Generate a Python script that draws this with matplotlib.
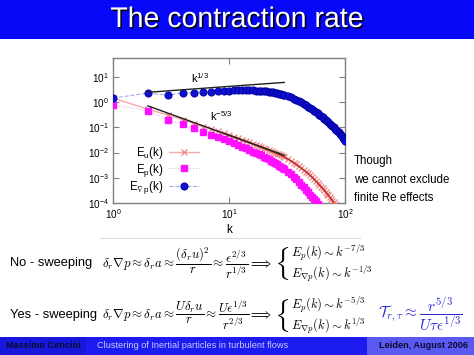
import numpy as np
import matplotlib
matplotlib.use("Agg")
import matplotlib.pyplot as plt
import matplotlib.patheffects as pe
from matplotlib.patches import Rectangle
from matplotlib.lines import Line2D

plt.rcParams['font.family'] = ['Liberation Sans', 'DejaVu Sans']
plt.rcParams['mathtext.fontset'] = 'cm'

# ---------------- data (log10 of spectra) ----------------
k_grid = list(range(1, 31)) + list(range(32, 101, 2))

log_E_gradp = [0.16, 0.36, 0.27, 0.37, 0.38, 0.40, 0.42, 0.44, 0.45, 0.46,
               0.47, 0.47, 0.47, 0.47, 0.47, 0.47, 0.46, 0.46, 0.45, 0.44,
               0.43, 0.42, 0.41, 0.40, 0.38, 0.36, 0.34, 0.32, 0.30, 0.28,
               0.24, 0.19, 0.14, 0.09, 0.04, -0.01, -0.06, -0.12, -0.18, -0.23,
               -0.29, -0.34, -0.40, -0.45, -0.50, -0.55, -0.60, -0.65, -0.70, -0.75,
               -0.80, -0.85, -0.90, -0.95, -1.00, -1.05, -1.10, -1.15, -1.20, -1.25,
               -1.30, -1.36, -1.42, -1.47, -1.53]

log_E_p = [-0.11, -0.34, -0.71, -0.87, -1.04, -1.20, -1.30, -1.38, -1.45, -1.55,
           -1.63, -1.70, -1.77, -1.83, -1.90, -1.96, -2.01, -2.06, -2.11, -2.16,
           -2.22, -2.27, -2.32, -2.37, -2.42, -2.47, -2.52, -2.57, -2.62, -2.67,
           -2.76, -2.85, -2.95, -3.05, -3.16, -3.27, -3.38, -3.48, -3.58, -3.67,
           -3.76, -3.85, -3.94, -4.03]

log_E_u = [0.16, -0.28, -0.52, -0.70, -0.85, -0.97, -1.07, -1.16, -1.24, -1.31,
           -1.37, -1.43, -1.50, -1.55, -1.60, -1.65, -1.70, -1.75, -1.79, -1.83,
           -1.87, -1.90, -1.94, -1.97, -2.00, -2.04, -2.07, -2.11, -2.14, -2.18,
           -2.25, -2.32, -2.40, -2.47, -2.55, -2.62, -2.69, -2.76, -2.83, -2.90,
           -2.98, -3.05, -3.13, -3.20, -3.28, -3.35, -3.42, -3.49, -3.56, -3.63,
           -3.70, -3.77, -3.84, -3.91, -3.98, -4.05]

# reference power laws
k_fit = [2, 30]
amp_13 = 1.95
amp_53 = 0.71
exp_13 = 1.0 / 3.0
exp_53 = -5.0 / 3.0

legend_labels = [r"$\mathregular{E_u(k)}$", r"$\mathregular{E_p(k)}$",
                 r"$\mathregular{E_{\nabla\,p}(k)}$"]

# ---------------- figure ----------------
W, H = 474, 355
fig = plt.figure(figsize=(W / 100, H / 100), dpi=100)
fig.patch.set_facecolor('white')

def fx(px):
    return px / W

def fy(py):
    return 1 - py / H

# title bar
fig.add_artist(Rectangle((0, fy(39)), 1, 39 / H, transform=fig.transFigure,
                         facecolor='#0808f8', edgecolor='none', zorder=0))
fig.text(0.5, fy(20), "The contraction rate", color='white', fontsize=20.5,
         ha='center', va='center',
         path_effects=[pe.withSimplePatchShadow(offset=(1.2, -1.2),
                                                shadow_rgbFace='black', alpha=0.9)])

# footer
fig.add_artist(Rectangle((0, 0), fx(367), 18 / H, transform=fig.transFigure,
                         facecolor='#1c1cf0', edgecolor='none', zorder=0))
fig.add_artist(Rectangle((0, 0), fx(86), 18 / H, transform=fig.transFigure,
                         facecolor='#1818dc', edgecolor='none', zorder=0))
fig.add_artist(Rectangle((fx(367), 0), 1 - fx(367), 18 / H, transform=fig.transFigure,
                         facecolor='#5a5af2', edgecolor='none', zorder=0))
fig.text(fx(6), fy(346), "Massimo Cencini", color='#0a0a30', fontsize=6.6,
         fontweight='bold', ha='left', va='center')
fig.text(fx(97), fy(346), "Clustering of Inertial particles in turbulent flows",
         color='#c8c8ff', fontsize=6.6, ha='left', va='center')
fig.text(fx(468), fy(346), "Leiden, August 2006", color='#0a0a30', fontsize=6.6,
         fontweight='bold', ha='right', va='center')

# thin line below embedded plot
fig.add_artist(Line2D([fx(100), fx(360)], [fy(238), fy(238)], transform=fig.transFigure,
                      color='#dddddd', lw=0.8))

# ---------------- axes ----------------
ax = fig.add_axes([fx(113), fy(203), fx(345) - fx(113), (203 - 58) / H])
ax.set_xscale('log')
ax.set_yscale('log')

k = np.array(k_grid, dtype=float)
E_gp = 10 ** np.array(log_E_gradp)
E_p = 10 ** np.array(log_E_p)
E_u = 10 ** np.array(log_E_u)
k_p = k[:len(E_p)]
k_u = k[:len(E_u)]

# E_u: salmon crosses with a line
l_u, = ax.plot(k_u, E_u, color='#f4a8a8', lw=1.0, marker='x', ms=3.8,
               mec='#ee7878', mew=0.8, zorder=3)
ax.plot(k_u[8:], E_u[8:], color='#b02020', lw=0.8, zorder=4)
# E_p: magenta squares
l_p, = ax.plot(k_p, E_p, color='#f3a6f3', lw=0.8, ls=':', marker='s', ms=4.4,
               mfc='#ff10ff', mec='#ff10ff', zorder=3)
# E_grad p: blue circles
l_g, = ax.plot(k, E_gp, color='#9fa8ee', lw=0.8, ls='--', marker='o', ms=5.2,
               mfc='#1010d0', mec='#0000a0', mew=0.6, zorder=3)

# power laws
kf = np.array(k_fit, dtype=float)
ax.plot(kf, amp_13 * kf ** exp_13, color='#202020', lw=1.0, zorder=5)
ax.plot(kf, amp_53 * (kf / 2) ** exp_53, color='#202020', lw=1.0, zorder=5)
ax.text(5.6, 9.0, r"$\mathregular{k^{1/3}}$", fontsize=8, ha='center', va='center')
ax.text(8.6, 0.27, r"$\mathregular{k^{-5/3}}$", fontsize=8, ha='center', va='center')

ax.set_xlim(1, 100)
ax.set_ylim(1e-4, 10 ** 1.75)
ax.set_xticks([1, 10, 100])
ax.set_yticks([1e-4, 1e-3, 1e-2, 1e-1, 1, 10])
ax.minorticks_off()
ax.tick_params(which='both', direction='in', top=True, right=True, length=4,
               color='#808080', labelsize=7.2, pad=3)
for s in ax.spines.values():
    s.set_color('#808080')
    s.set_linewidth(1.0)
ax.set_xlabel('k', fontsize=8.5, labelpad=2)

leg = ax.legend([l_u, l_p, l_g], legend_labels, markerfirst=False, frameon=False,
                loc='upper right', bbox_to_anchor=(fx(199), fy(145)),
                bbox_transform=fig.transFigure, fontsize=8.3, handlelength=2.6,
                handletextpad=0.5, labelspacing=0.05, borderpad=0, borderaxespad=0)

# side note
fig.text(fx(354), fy(161), "Though", fontsize=8.3, ha='left', va='center')
fig.text(fx(354), fy(180), "we cannot exclude", fontsize=8.3, ha='left', va='center')
fig.text(fx(354), fy(198), "finite Re effects", fontsize=8.3, ha='left', va='center')

# ---------------- equations ----------------
fig.text(fx(10), fy(263), "No - sweeping", fontsize=9.3, ha='left', va='center')
fig.text(fx(10), fy(315), "Yes - sweeping", fontsize=9.3, ha='left', va='center')

eq1 = (r"$\delta_r\nabla p \approx \delta_r a \approx \dfrac{(\delta_r u)^2}{r} \approx "
       r"\dfrac{\epsilon^{2/3}}{r^{1/3}} \Longrightarrow$")
eq2 = (r"$\delta_r\nabla p \approx \delta_r a \approx \dfrac{U\delta_r u}{r} \approx "
       r"\dfrac{U\epsilon^{1/3}}{r^{2/3}} \Longrightarrow$")
eq1_cases = [r"$E_p(k)\sim k^{-7/3}$", r"$E_{\nabla p}(k)\sim k^{-1/3}$"]
eq2_cases = [r"$E_p(k)\sim k^{-5/3}$", r"$E_{\nabla p}(k)\sim k^{1/3}$"]
eq3 = r"$\mathcal{T}_{r,\tau} \approx \dfrac{r^{5/3}}{U\tau\epsilon^{1/3}}$"

for yc, eq, cases in [(263, eq1, eq1_cases), (315, eq2, eq2_cases)]:
    fig.text(fx(102), fy(yc), eq, fontsize=9.2, ha='left', va='center')
    fig.text(fx(274), fy(yc), r"$\{$", fontsize=20, ha='left', va='center')
    fig.text(fx(291), fy(yc), cases[0] + "\n" + cases[1], fontsize=9.0,
             ha='left', va='center', linespacing=1.0)
fig.text(fx(378), fy(314), eq3, fontsize=11, ha='left', va='center', color='#2a2ad0')

fig.savefig('out.png', dpi=100)
